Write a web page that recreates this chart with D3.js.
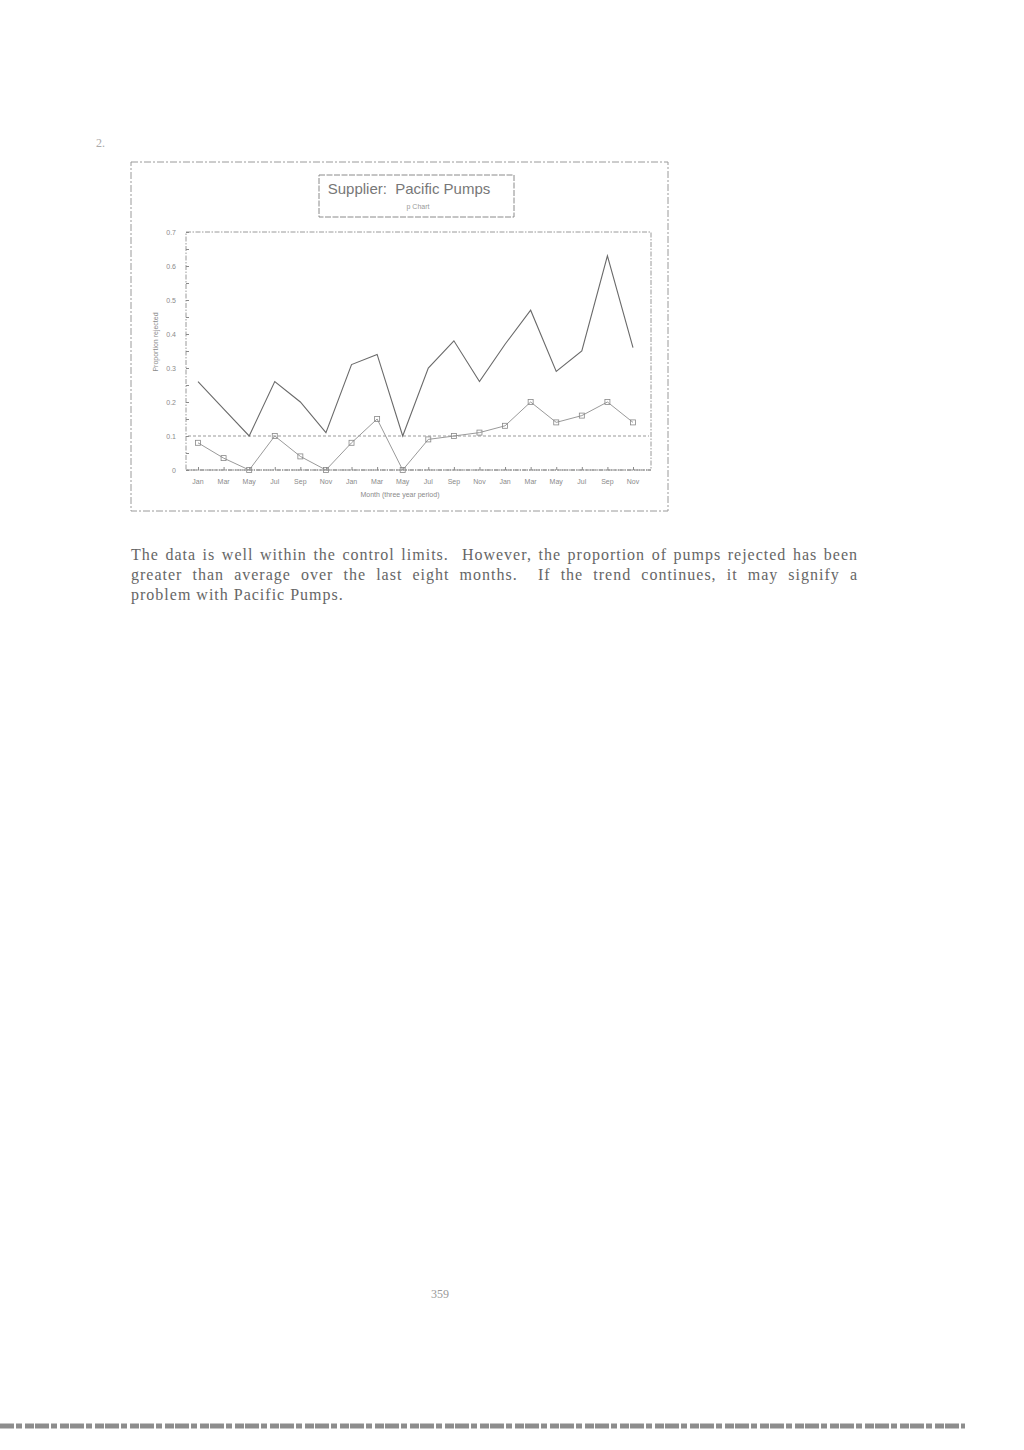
<!DOCTYPE html>
<html>
<head>
<meta charset="utf-8">
<script src="https://cdn.jsdelivr.net/npm/d3@7"></script>
<style>
  html, body { margin: 0; padding: 0; background: #fff; }
  body { width: 1024px; height: 1450px; position: relative; overflow: hidden; }
  #chart { position: absolute; left: 0; top: 0; }
  #para {
    position: absolute; left: 131px; top: 545px; width: 727px;
    font-family: "Liberation Serif", "DejaVu Serif", serif;
    font-size: 16px; line-height: 20px; color: #666; letter-spacing: 1px;
  }
  #para div { text-align: justify; text-align-last: justify; white-space: normal; }
  #para div.last { text-align-last: left; }
</style>
</head>
<body>
<svg id="chart" width="1024" height="1450"></svg>
<div id="para">
  <div>The data is well within the control limits.&nbsp; However, the proportion of pumps rejected has been</div>
  <div>greater than average over the last eight months.&nbsp; If the trend continues, it may signify a</div>
  <div class="last">problem with Pacific Pumps.</div>
</div>
<script>
// ---- data ----
const months = ["Jan","Mar","May","Jul","Sep","Nov","Jan","Mar","May","Jul","Sep","Nov","Jan","Mar","May","Jul","Sep","Nov"];
const uclValues = [0.26,0.18,0.10,0.26,0.20,0.11,0.31,0.34,0.10,0.30,0.38,0.26,0.37,0.47,0.29,0.35,0.63,0.36];
const proportionValues = [0.08,0.035,0.0,0.10,0.04,0.0,0.08,0.15,0.0,0.09,0.10,0.11,0.13,0.20,0.14,0.16,0.20,0.14];
const centreValue = 0.1;
const lclValue = 0;
const yTicks = [0,0.1,0.2,0.3,0.4,0.5,0.6,0.7];
const yTickLabels = ["0","0.1","0.2","0.3","0.4","0.5","0.6","0.7"];
const titleText = "Supplier:  Pacific Pumps";
const subtitleText = "p Chart";
const xTitle = "Month (three year period)";
const yTitle = "Proportion rejected";

const svg = d3.select("#chart");
const font = "'Liberation Sans', Arial, sans-serif";
const textCol = "#8a8a8a";

// page marker
svg.append("text").attr("x", 96).attr("y", 147).text("2.")
  .attr("font-family", "'Liberation Serif', serif").attr("font-size", 12).attr("fill", "#aaa");

// outer frame
svg.append("rect").attr("x", 131).attr("y", 162).attr("width", 537).attr("height", 349)
  .attr("fill", "none").attr("stroke", "#9a9a9a").attr("stroke-width", 1)
  .attr("stroke-dasharray", "7,2,2,2");

// title box
svg.append("rect").attr("x", 319).attr("y", 175).attr("width", 195).attr("height", 42)
  .attr("fill", "none").attr("stroke", "#8a8a8a").attr("stroke-width", 1)
  .attr("stroke-dasharray", "6,1.5");
svg.append("text").attr("x", 409).attr("y", 194).attr("text-anchor", "middle")
  .style("white-space", "pre")
  .attr("font-family", font).attr("font-size", 15).attr("fill", "#777").text(titleText);
svg.append("text").attr("x", 418).attr("y", 209).attr("text-anchor", "middle")
  .attr("font-family", font).attr("font-size", 7).attr("fill", "#999").text(subtitleText);

// scales
const plot = {x0: 186, x1: 651, y0: 232, y1: 470};
const x = d3.scalePoint().domain(d3.range(months.length)).range([198, 633]);
const y = d3.scaleLinear().domain([0, 0.7]).range([plot.y1, plot.y0]);

// plot rectangle
svg.append("rect").attr("x", plot.x0).attr("y", plot.y0)
  .attr("width", plot.x1 - plot.x0).attr("height", plot.y1 - plot.y0)
  .attr("fill", "none").attr("stroke", "#9a9a9a").attr("stroke-width", 1)
  .attr("stroke-dasharray", "5,1.5,1.5,1.5");

// y axis ticks (inward), labels
const yAxis = d3.axisRight(y).tickValues(d3.range(0, 0.7001, 0.05)).tickSize(3).tickFormat("");
const gy = svg.append("g").attr("transform", `translate(${plot.x0},0)`).call(yAxis);
gy.select(".domain").remove();
gy.selectAll("line").attr("stroke", "#8a8a8a");
svg.append("g").selectAll("text").data(yTicks).join("text")
  .attr("x", 176).attr("y", d => y(d) + 2.5).attr("text-anchor", "end")
  .attr("font-family", font).attr("font-size", 7).attr("fill", textCol)
  .text((d, i) => yTickLabels[i]);

// x axis ticks and labels
const xAxis = d3.axisTop(x).tickSize(3).tickFormat("");
const gx = svg.append("g").attr("transform", `translate(0,${plot.y1})`).call(xAxis);
gx.select(".domain").remove();
gx.selectAll("line").attr("stroke", "#8a8a8a");
svg.append("g").selectAll("text").data(months).join("text")
  .attr("x", (d, i) => x(i)).attr("y", 484).attr("text-anchor", "middle")
  .attr("font-family", font).attr("font-size", 7).attr("fill", textCol).text(d => d);

// axis titles
svg.append("text").attr("x", 400).attr("y", 497).attr("text-anchor", "middle")
  .attr("font-family", font).attr("font-size", 7).attr("fill", textCol).text(xTitle);
svg.append("text").attr("transform", "translate(158,342) rotate(-90)").attr("text-anchor", "middle")
  .attr("font-family", font).attr("font-size", 7).attr("fill", textCol).text(yTitle);

// centre line and LCL
svg.append("line").attr("x1", plot.x0 + 2).attr("x2", plot.x1 - 2)
  .attr("y1", y(centreValue)).attr("y2", y(centreValue))
  .attr("stroke", "#999").attr("stroke-width", 1).attr("stroke-dasharray", "3,2");
svg.append("line").attr("x1", plot.x0).attr("x2", plot.x1)
  .attr("y1", y(lclValue)).attr("y2", y(lclValue))
  .attr("stroke", "#888").attr("stroke-width", 1).attr("stroke-dasharray", "4,1,1,1");

// UCL line
const line = d3.line().x((d, i) => x(i)).y(d => y(d));
svg.append("path").datum(uclValues).attr("d", line)
  .attr("fill", "none").attr("stroke", "#6a6a6a").attr("stroke-width", 1.1);

// proportion line
svg.append("path").datum(proportionValues).attr("d", line)
  .attr("fill", "none").attr("stroke", "#9a9a9a").attr("stroke-width", 1);
svg.append("g").selectAll("rect").data(proportionValues).join("rect")
  .attr("x", (d, i) => x(i) - 2.5).attr("y", d => y(d) - 2.5)
  .attr("width", 5).attr("height", 5)
  .attr("fill", "none").attr("stroke", "#888").attr("stroke-width", 0.8);

// page number
svg.append("text").attr("x", 440).attr("y", 1298).attr("text-anchor", "middle")
  .attr("font-family", "'Liberation Serif', serif").attr("font-size", 12).attr("fill", "#999").text("359");

// scan edge band at the bottom of the page
svg.append("line").attr("x1", 0).attr("x2", 965).attr("y1", 1426).attr("y2", 1426)
  .attr("stroke", "#8d8d8d").attr("stroke-width", 5).attr("stroke-dasharray", "14,2,6,3,9,1");
</script>
</body>
</html>
